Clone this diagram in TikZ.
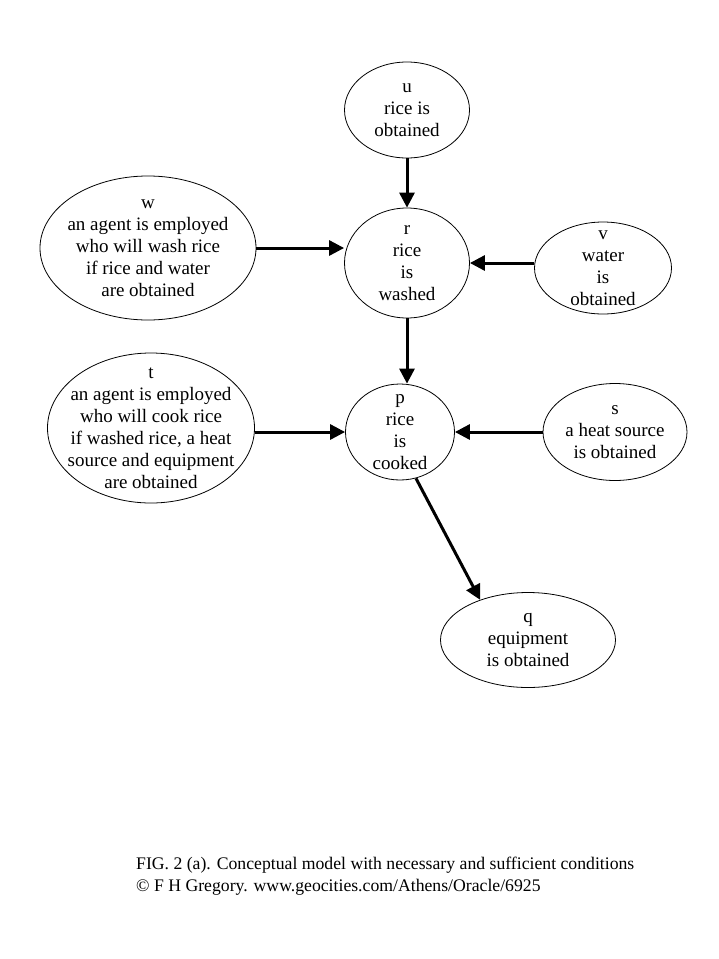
\documentclass[tikz,border=0pt]{standalone}
\usepackage{fontspec}
\setmainfont{Liberation Serif}
\usetikzlibrary{arrows.meta,shapes.geometric}
\tikzset{
  cmArrow/.style={-{Triangle[length=15pt,width=15pt]},line width=3pt,draw=black},
  cmState/.style={ellipse,draw=black,line width=0.8pt,inner sep=-30pt,
    align=center,font=\fontsize{19}{22}\selectfont},
  cmCaption/.style={font=\fontsize{17.7}{22}\selectfont,align=left,inner sep=0pt}
}
\begin{document}
\begin{tikzpicture}[x=1pt,y=-1pt]
\path[use as bounding box,fill=white] (0,0) rectangle (719,959);
\node[cmState,minimum width=125pt,minimum height=96pt] (u) at (407,110)
  {u\\rice is\\obtained};
\node[cmState,minimum width=125pt,minimum height=110pt] (r) at (407,263)
  {r\\rice\\is\\washed};
\node[cmState,minimum width=216pt,minimum height=144pt] (w) at (148,248)
  {w\\an agent is employed\\who will wash rice\\if rice and water\\are obtained};
\node[cmState,minimum width=137pt,minimum height=92pt] (v) at (603,268)
  {v\\water\\is\\obtained};
\node[cmState,minimum width=207pt,minimum height=150pt] (t) at (151,428)
  {t\\an agent is employed\\who will cook rice\\if washed rice, a heat\\source and equipment\\are obtained};
\node[cmState,minimum width=109pt,minimum height=96pt] (p) at (400,432)
  {p\\rice\\is\\cooked};
\node[cmState,minimum width=144pt,minimum height=97pt] (s) at (615,432)
  {s\\a heat source\\is obtained};
\node[cmState,minimum width=175pt,minimum height=95pt] (q) at (528,640)
  {q\\equipment\\is obtained};
% connectors
\draw[cmArrow] (u.south) -- (r.north);
\draw[cmArrow] (w.east) -- (w.east -| r.west);
\draw[cmArrow] (v.west |- r.east) -- (r.east);
\draw[cmArrow] (r.south) -- (r.south |- p.north);
\draw[cmArrow] (t.east |- p.west) -- (p.west);
\draw[cmArrow] (s.west) -- (p.east);
\draw[cmArrow] (p.-71) -- (q.140);
\node[cmCaption,anchor=north west] (cap) at (136,857)
  {FIG. 2 (a). Conceptual model with necessary and sufficient conditions\\
   © F H Gregory. www.geocities.com/Athens/Oracle/6925};
\end{tikzpicture}
\end{document}
